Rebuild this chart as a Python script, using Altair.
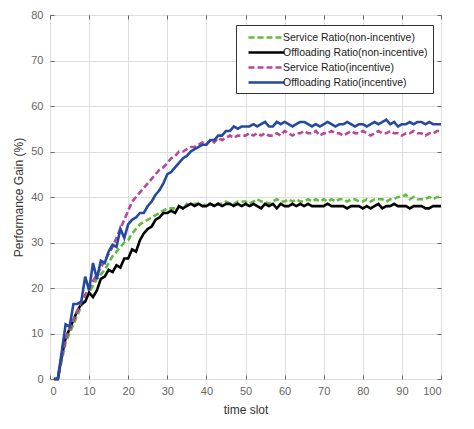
import altair as alt
import pandas as pd

time_slot = list(range(1, 101))

service_non = [0, 0, 4, 8, 10, 12, 14, 16, 17.5, 19,
               20.5, 22, 23, 24, 25.5, 27, 28, 29, 30, 30.5,
               32, 33, 34, 34.5, 35, 35.5, 36, 36.5, 37, 37.5,
               37.5, 37.5, 38, 37.5, 38.5, 38, 38.5, 38.5, 38, 38.5,
               38.5, 38, 38.5, 38.5, 39, 38.5, 38.5, 39, 39, 39,
               38.5, 39, 39.5, 39, 39, 38.5, 39, 39.5, 39, 39,
               39.5, 39, 39.5, 39, 39, 39.5, 39, 39.5, 39, 39.5,
               39, 39.5, 39, 39.5, 39.5, 39, 39.5, 39.5, 39, 39,
               39.5, 39, 39.5, 39.5, 39.5, 39, 39.5, 39.5, 40, 40,
               40.5, 39.5, 40, 39.5, 39.5, 39.5, 40, 39.5, 40, 40]

offload_non = [0, 0, 5, 9, 11, 13, 15, 16.5, 17, 19,
               18, 19.5, 22, 22.5, 24, 23.5, 25, 24.5, 26.5, 26.5,
               28.5, 28, 30.5, 32, 33, 33.5, 35, 35.5, 36.5, 36.5,
               37, 36.5, 38, 37.5, 38, 38.5, 38, 38.5, 38, 38,
               38.5, 38, 38.5, 38, 38.5, 38.5, 38, 38.5, 38, 38.5,
               38, 38.5, 38, 37.5, 38.5, 38, 38.5, 37.5, 38.5, 38,
               38, 38.5, 38, 38.5, 38, 38.5, 38, 38, 38, 38,
               38.5, 38, 38, 38, 38, 37.5, 38, 38, 38, 37.5,
               38, 37.5, 38, 38.5, 37.5, 38, 38, 38.5, 38, 38,
               38, 37.5, 38, 38, 38, 37.5, 37.5, 38, 38, 38]

service_inc = [0, 0, 5, 9, 11, 13, 15, 17, 18.5, 20,
               21.5, 23, 24.5, 26, 27.5, 29, 31, 33, 35, 37,
               39, 40, 41, 42, 43, 44, 45, 46, 46.5, 47.5,
               48.5, 49, 50, 50, 50.5, 51, 51, 51.5, 52, 51.5,
               52.5, 52, 53, 52.5, 53, 53.5, 53, 53.5, 53.5, 53.5,
               54, 53.5, 54, 53.5, 54, 53.5, 53.5, 54, 53.5, 54.5,
               54, 53.5, 54, 54, 54.5, 54, 54, 54.5, 53.5, 54,
               54, 54.5, 54, 54, 53.5, 54, 54.5, 54, 54, 54.5,
               54, 53.5, 54, 54.5, 54, 54, 54.5, 54, 54, 53.5,
               54, 54, 54.5, 54, 54, 53.5, 54, 54, 54.5, 54.5]

offload_inc = [0, 0, 6, 12, 11.5, 16.5, 16.5, 17, 22.5, 19.5,
               25.5, 22, 26, 25.5, 28, 29.5, 29, 33, 31, 34,
               35, 35.5, 36.5, 36.5, 38, 39, 40.5, 41.5, 43, 45,
               45.5, 46.5, 47.5, 48.5, 49, 50, 50.5, 51, 51.5, 51.5,
               52.5, 52.5, 53.5, 53.5, 54.5, 54.5, 55.5, 55, 55.5, 55.5,
               55.5, 56, 55.5, 56, 56.5, 55.5, 55.5, 56.5, 56, 56.5,
               56, 55.5, 56, 56.5, 56.5, 56, 55.5, 56, 55.5, 56,
               56.5, 56, 55.5, 56, 56, 56.5, 56, 55.5, 56, 56,
               55.5, 56, 56.5, 56, 56.5, 57, 56, 56.5, 55.5, 56,
               56, 56.5, 56, 56.5, 56.5, 56, 56.5, 56, 56, 56]

names = ["Service Ratio(non-incentive)", "Offloading Ratio(non-incentive)",
         "Service Ratio(incentive)", "Offloading Ratio(incentive)"]
colors = ["#62bd3c", "#000000", "#b7489f", "#2349a0"]
dashes = [[6, 3], [1, 0], [6, 3], [1, 0]]

rows = []
for name, series in zip(names, [service_non, offload_non, service_inc, offload_inc]):
    for t, v in zip(time_slot, series):
        rows.append({"t": t, "v": v, "s": name})
df = pd.DataFrame(rows)

font = "Liberation Sans"
xscale = alt.Scale(domain=[0, 100], nice=False)
yscale = alt.Scale(domain=[0, 80], nice=False)

lines = alt.Chart(df).mark_line(strokeWidth=2.6).encode(
    x=alt.X("t:Q", scale=xscale, title="time slot",
            axis=alt.Axis(values=list(range(0, 101, 10)), offset=-4, tickSize=4,
                          domain=False, labelPadding=6, grid=True)),
    y=alt.Y("v:Q", scale=yscale, title="Performance Gain (%)",
            axis=alt.Axis(values=list(range(0, 81, 10)), offset=-4, tickSize=4,
                          domain=False, labelPadding=7, grid=True)),
    color=alt.Color("s:N", scale=alt.Scale(domain=names, range=colors),
                    legend=alt.Legend(title=None, orient="none", legendX=186, legendY=10,
                                      symbolType="M-3,0H3", symbolSize=144,
                                      symbolStrokeWidth=2.6, labelFontSize=10.5,
                                      labelFont=font, labelColor="#222",
                                      fillColor="white", strokeColor="#333",
                                      padding=5, rowPadding=2, labelOffset=9,
                                      labelLimit=300, symbolOffset=18)),
    strokeDash=alt.StrokeDash("s:N", scale=alt.Scale(domain=names, range=dashes),
                              legend=None),
    order=alt.Order("t:Q"),
)

frame_axes = alt.Chart(df).mark_point(opacity=0).encode(
    x=alt.X("t:Q", scale=xscale,
            axis=alt.Axis(orient="top", values=list(range(0, 101, 10)), offset=-4,
                          tickSize=4, labels=False, domain=False, grid=False, title=None)),
    y=alt.Y("v:Q", scale=yscale,
            axis=alt.Axis(orient="right", values=list(range(0, 81, 10)), offset=-4,
                          tickSize=4, labels=False, domain=False, grid=False, title=None)),
)

chart = alt.layer(frame_axes, lines).resolve_axis(x="independent", y="independent").properties(
    width=391, height=364,
    autosize=alt.AutoSizeParams(type="none"),
    padding={"left": 42, "top": 7, "right": 25, "bottom": 50},
).configure_view(stroke="#666", strokeWidth=1).configure_axis(
    labelFont=font, titleFont=font, labelFontSize=11, titleFontSize=12,
    labelColor="#666", titleColor="#333", titleFontWeight="normal",
    tickColor="#666", gridColor="#dedede", gridWidth=1,
).configure_axisY(titlePadding=5).configure_axisX(titlePadding=8)

chart.save("out.html", embed_options={"renderer": "svg", "actions": False})
